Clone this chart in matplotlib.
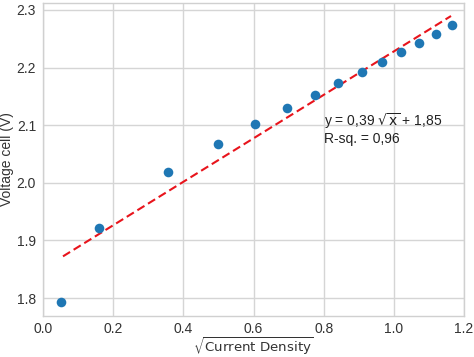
import numpy as np
import matplotlib
matplotlib.use("Agg")
import matplotlib.pyplot as plt

sqrt_current = [0.051, 0.160, 0.355, 0.498, 0.604, 0.695, 0.775, 0.842,
                0.908, 0.965, 1.021, 1.073, 1.121, 1.167]
voltage = [1.794, 1.922, 2.019, 2.067, 2.102, 2.129, 2.152, 2.174,
           2.192, 2.210, 2.227, 2.243, 2.258, 2.273]
x_ticks = [0.0, 0.2, 0.4, 0.6, 0.8, 1.0, 1.2]
y_ticks = [1.8, 1.9, 2.0, 2.1, 2.2, 2.3]
fit_slope = 0.377
fit_intercept = 1.851

plt.rcParams['font.family'] = ['Liberation Sans', 'DejaVu Sans']
fig = plt.figure(figsize=(4.74, 3.57), dpi=100)
ax = fig.add_axes([43/474, 1-316/357, (464-43)/474, (316-3)/357])

ax.grid(True, color='#d5d5d5', linewidth=1.0)
ax.set_axisbelow(True)
for s in ax.spines.values():
    s.set_color('#d0d0d0')
    s.set_linewidth(1.0)

xs = np.array(sqrt_current)
xl = np.array([xs.min() + 0.006, xs.max() - 0.004])
ax.plot(xl, fit_slope * xl + fit_intercept, color='#e8141c', linestyle='--',
        linewidth=1.5, dashes=(4, 2), zorder=2)
ax.scatter(sqrt_current, voltage, s=48, color='#1f77b4', zorder=3, linewidths=0)

ax.set_xlim(0, 1.2)
ax.set_ylim(1.769, 2.312)
ax.set_xticks(x_ticks)
ax.set_yticks(y_ticks)
ax.set_xticklabels([f"{t:.1f}" for t in x_ticks])
ax.set_yticklabels([f"{t:.1f}" for t in y_ticks])
ax.tick_params(length=0, labelsize=10, colors='#333333', pad=5)
ax.tick_params(axis='x', pad=4)

ax.set_xlabel(r'$\sqrt{\mathrm{Current\ Density}}$', fontsize=9.6, color='#333333', labelpad=0)
ax.set_ylabel('Voltage cell (V)', fontsize=10, color='#333333', labelpad=2)

ax.text(0.8, 2.098, r'y = 0,39 $\sqrt{\mathrm{x}}$ + 1,85', fontsize=10, color='#222222',
        va='baseline', ha='left')
ax.text(0.8, 2.069, 'R-sq. = 0,96', fontsize=10, color='#222222', va='baseline', ha='left')

fig.savefig('out.png', dpi=100)
